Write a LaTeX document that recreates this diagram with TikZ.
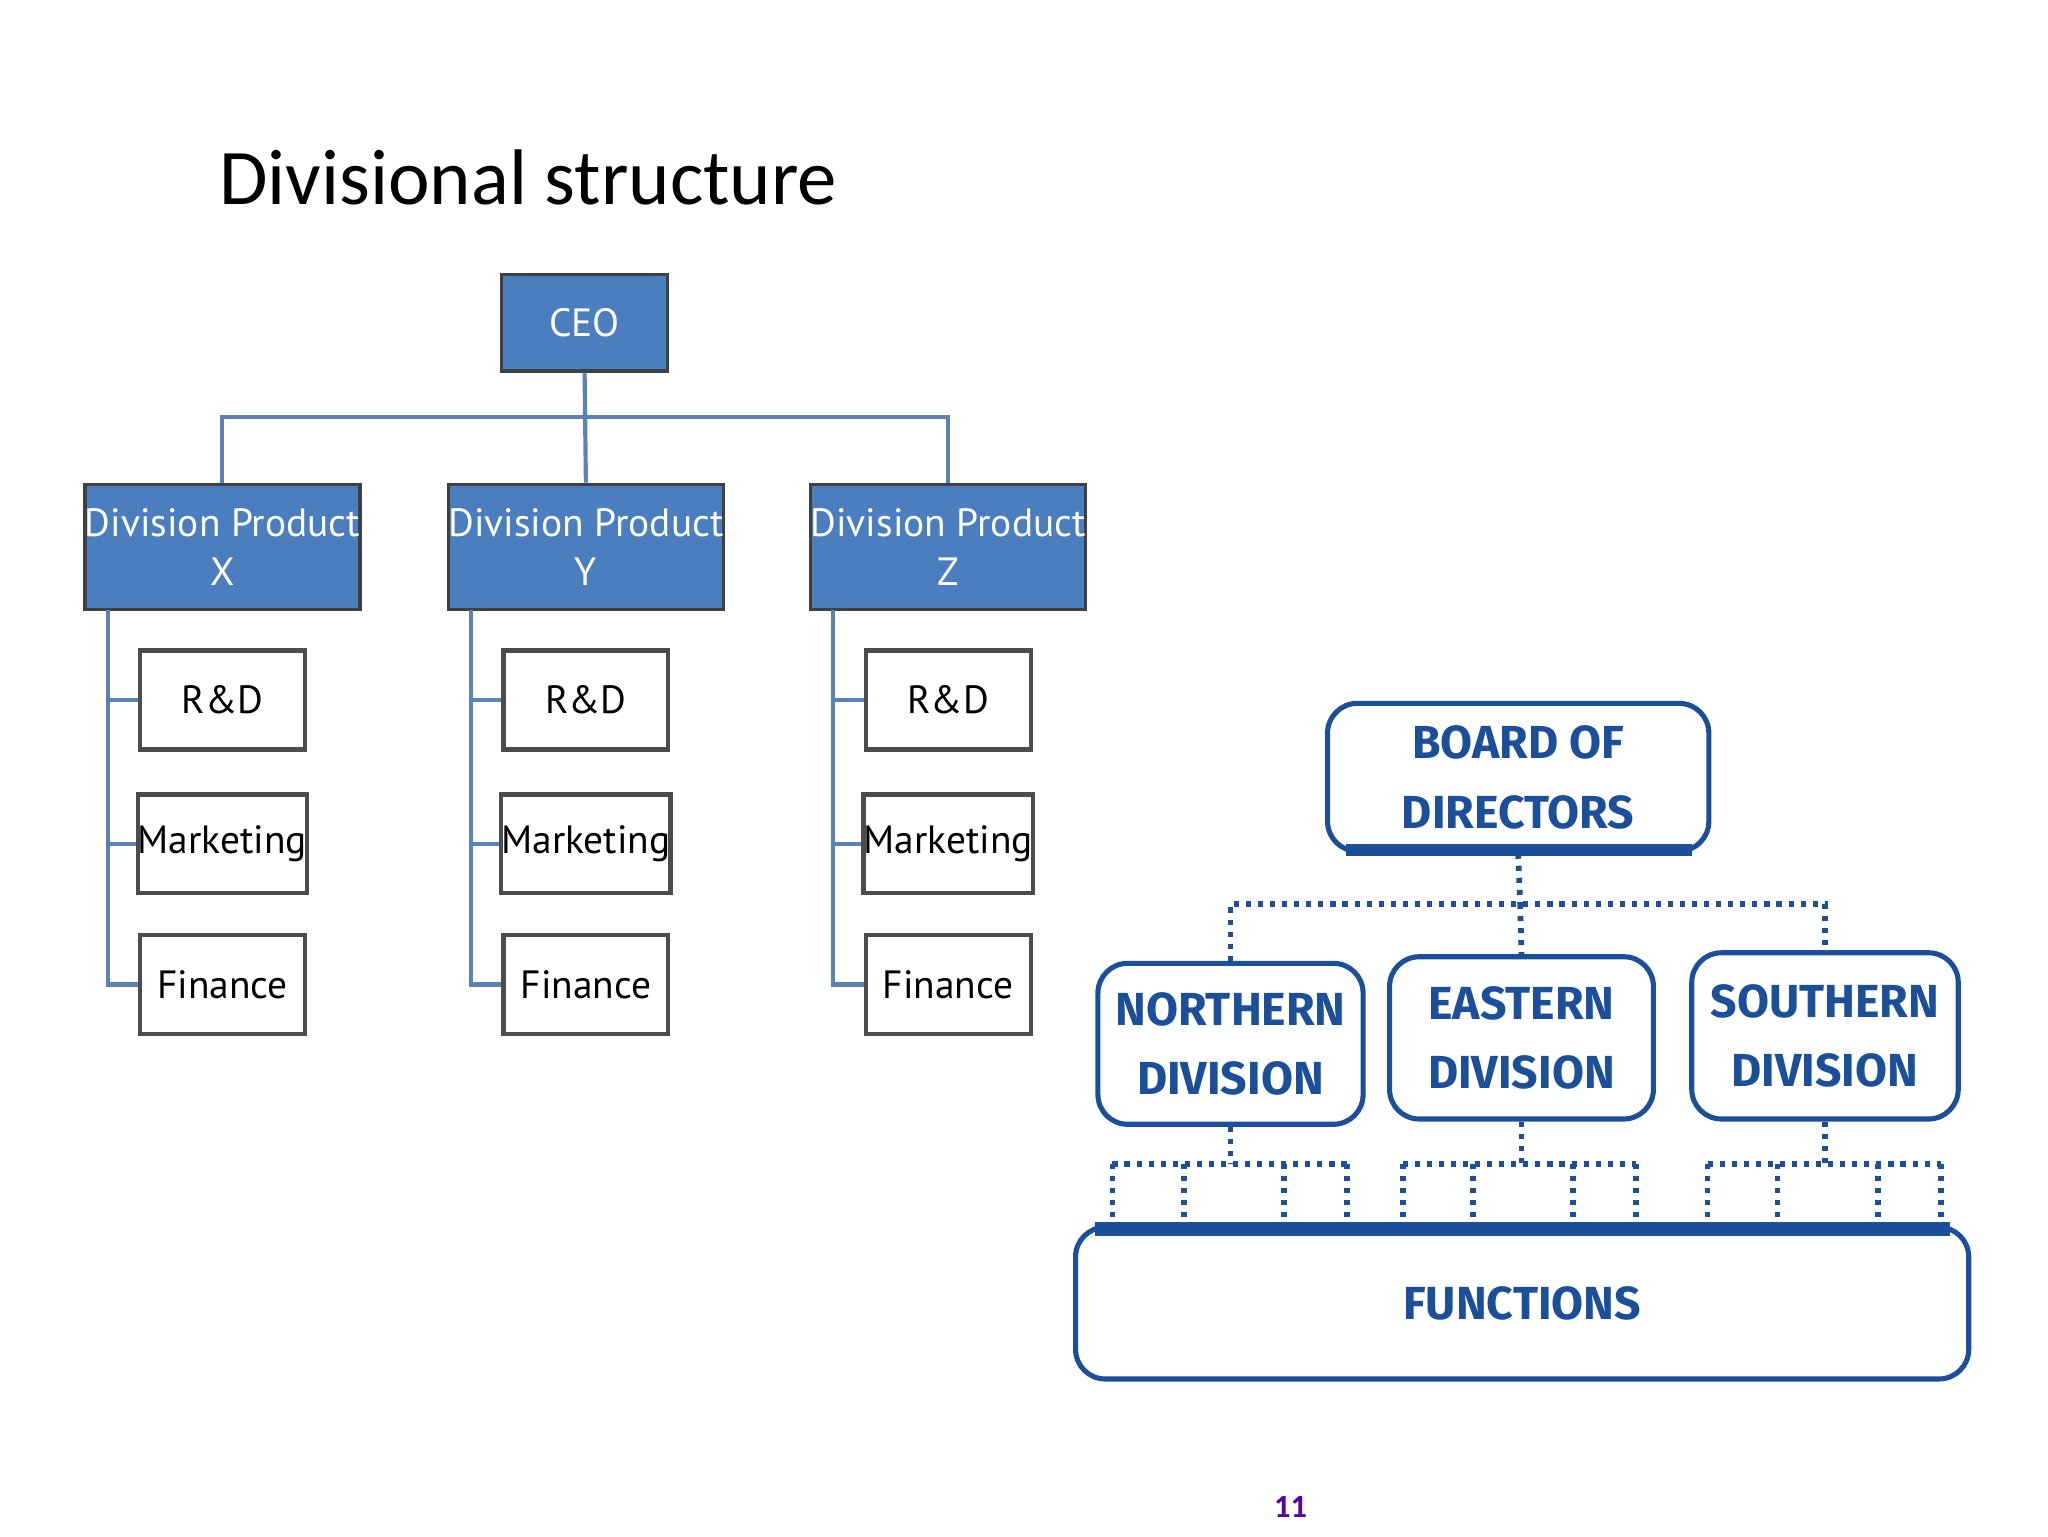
\documentclass[tikz,border=0pt]{standalone}
\usepackage{fontspec}
\setmainfont{Carlito}
\newfontfamily\boxf{PT Sans}
\newfontfamily\rbf{Fira Sans}
\begin{document}
\begin{tikzpicture}[x=0.02cm,y=-0.02cm,
  dv/.style={draw=black!75,line width=1.5pt,fill=lblue,text=white,font=\boxf\fontsize{17}{21}\selectfont,align=center,inner sep=0pt},
  sb/.style={draw=black!70,line width=1.8pt,fill=white,font=\boxf\fontsize{17}{21}\selectfont,inner sep=0pt,minimum width=2.5cm,minimum height=1.5cm},
  ln/.style={draw=lineb,line width=1.8pt},
  rb/.style={draw=dblue,line width=2.2pt,rounded corners=0.45cm,text=dblue,font=\rbf\bfseries\fontsize{20}{30}\selectfont,align=center,inner sep=0pt},
  dt/.style={draw=dblue,line width=2.5pt,dash pattern=on 2.2pt off 3pt}]
\definecolor{lblue}{HTML}{4A7EBF}
\definecolor{lineb}{HTML}{5B82B5}
\definecolor{dblue}{HTML}{1B4F9A}
\useasboundingbox (0,0) rectangle (1552,1164);
\node[anchor=base west,font=\fontsize{34}{40}\selectfont] (title) at (160,155) {Divisional structure};
\node[dv,minimum width=2.52cm,minimum height=1.46cm] (ceo) at (443,244.5) {CEO};
\foreach \n/\l/\x in {x/X/168.5,y/Y/444,z/Z/718.5}{
  \node[dv,minimum width=4.02cm,minimum height=1.9cm] (\n d) at (\x,414.5) {Division Product\\\l};
  \node[sb] (\n r) at (\x,530.5) {R\&D};
  \node[sb] (\n m) at (\x,639.5) {Marketing};
  \node[sb] (\n f) at (\x,746) {Finance};
}
\coordinate (bus) at (443,316);
\draw[ln] (ceo.south) -- (yd.north);
\draw[ln] (xd.north) |- (bus) -| (zd.north);
\foreach \n/\s in {x/82,y/357,z/631}{
  \coordinate (\n s) at (\s,462);
  \draw[ln] (\n s) |- (\n f.west);
  \draw[ln] (\n s|-\n r.west) -- (\n r.west);
  \draw[ln] (\n s|-\n m.west) -- (\n m.west);
}
\node[rb,minimum width=5.78cm,minimum height=2.24cm] (bd) at (1150.5,589) {BOARD OF\\DIRECTORS};
\node[rb,minimum width=4.02cm,minimum height=2.44cm] (nd) at (932.5,791) {NORTHERN\\DIVISION};
\node[rb,minimum width=4cm,minimum height=2.46cm] (ed) at (1153,786.5) {EASTERN\\DIVISION};
\node[rb,minimum width=4.04cm,minimum height=2.52cm] (sd) at (1383,785) {SOUTHERN\\DIVISION};
\node[rb,minimum width=13.54cm,minimum height=2.3cm] (fn) at (1153.5,987.5) {FUNCTIONS};
\draw[dblue,line width=6pt] (830,931) -- (1478,931);
\draw[dblue,line width=5pt] (1020,644) -- (1282,644);
\coordinate (top) at (1152,685);
\draw[dt] (bd.south) -- (top);
\draw[dt] (nd.north) |- (top) -| (sd.north);
\draw[dt] (top) -- (ed.north);
\foreach \d/\a/\b/\c/\e in {nd/843/897/973/1021,ed/1063/1116/1192/1240,sd/1294/1347/1423/1471}{
  \coordinate (\d h) at (\d.south|-0,882);
  \draw[dt] (\d.south) -- (\d h);
  \draw[dt] (\a,882) -- (\e,882);
  \foreach \v in {\a,\b,\c,\e} \draw[dt] (\v,882) -- (\v,928);
}
\node[text=violet!70!blue,font=\bfseries\fontsize{14}{16}\selectfont] (pg) at (978,1142) {11};
\end{tikzpicture}
\end{document}
